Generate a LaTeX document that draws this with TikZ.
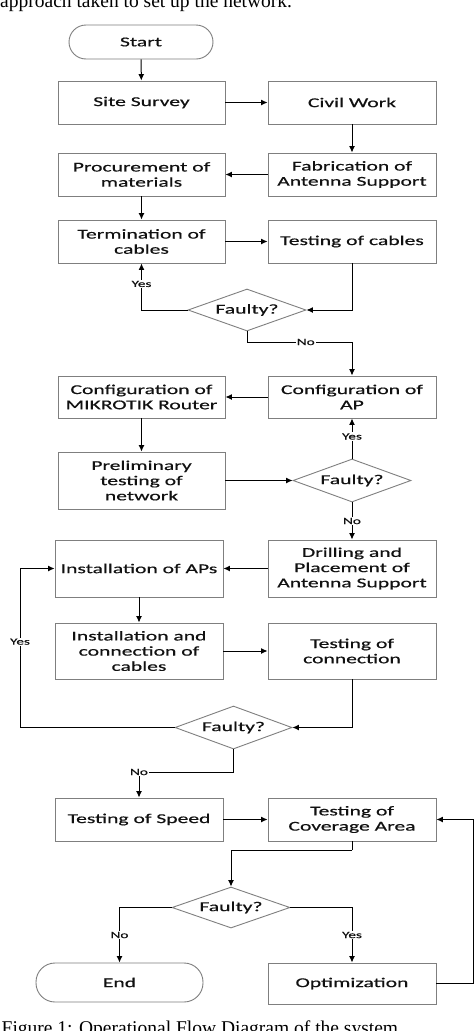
\documentclass[tikz,border=0pt]{standalone}
\usepackage{fontspec}
\setmainfont{Liberation Serif}
\newfontfamily\bxfont[FakeStretch=1.6,FakeBold=0.5]{Carlito}
\usetikzlibrary{arrows.meta,shapes.geometric}
\definecolor{boxline}{HTML}{7F7F7F}
\definecolor{txt}{HTML}{111111}
\tikzset{
  stepbox/.style={draw=boxline, line width=0.9pt, fill=white, inner sep=0pt,
    minimum width=168pt, minimum height=43pt, align=center, text=txt,
    font=\bxfont\fontsize{13.5}{15.2}\selectfont},
  termbox/.style={stepbox, rounded corners=17pt},
  decbox/.style={draw=boxline, line width=0.9pt, fill=white, diamond, aspect=2.8,
    inner sep=0pt, minimum width=118pt, minimum height=42pt, text=txt,
    font=\bxfont\fontsize{13.5}{15.2}\selectfont},
  arr/.style={draw=black, line width=1pt, -{Latex[length=6.5pt,width=6pt]}},
  ln/.style={draw=black, line width=1pt},
  lab/.style={fill=white, inner sep=1pt, text=txt,
    font=\bxfont\fontsize{9.5}{10}\selectfont},
  captxt/.style={inner sep=0pt, anchor=base west, font=\fontsize{19.5}{22}\selectfont}
}
\begin{document}
\begin{tikzpicture}[x=1pt,y=-1pt]
\useasboundingbox (0,0) rectangle (474,1031);
\fill[white] (0,0) rectangle (474,1031);
\begin{scope}
\clip (0,0) rectangle (474,1031);
\node[captxt] (captop) at (0,7.3) {approach taken to set up the network.};
\node[captxt] (capbot) at (1.5,1034.5) {Figure 1: Operational Flow Diagram of the system};
\end{scope}

% nodes
\node[termbox, minimum width=144pt, minimum height=34pt] (start) at (141,42) {Start};
\node[stepbox, minimum width=167pt] (site) at (141.5,102.5) {Site Survey};
\node[stepbox] (civil) at (352,102.5) {Civil Work};
\node[stepbox, minimum width=167pt] (proc) at (141.5,174.5) {Procurement of\\materials};
\node[stepbox] (fab) at (352,174.5) {Fabrication of\\Antenna Support};
\node[stepbox, minimum width=167pt] (term) at (141.5,241.5) {Termination of\\cables};
\node[stepbox] (tcab) at (352,241.5) {Testing of cables};
\node[decbox] (f1) at (247,310) {Faulty?};
\node[stepbox, minimum width=167pt, minimum height=42pt] (mikro) at (141.5,397) {Configuration of\\MIKROTIK Router};
\node[stepbox, minimum height=42pt] (confap) at (352,397) {Configuration of\\AP};
\node[stepbox, minimum width=167pt, minimum height=57pt] (prelim) at (141.5,480.5) {Preliminary\\testing of\\network};
\node[decbox, minimum height=43pt] (f2) at (352,480.5) {Faulty?};
\node[stepbox, minimum height=57pt] (drill) at (352,568.5) {Drilling and\\Placement of\\Antenna Support};
\node[stepbox, minimum height=57pt] (instap) at (139,568.5) {Installation of APs};
\node[stepbox, minimum height=56pt] (instc) at (139,651) {Installation and\\connection of\\cables};
\node[stepbox, minimum height=56pt] (tconn) at (352,651) {Testing of\\connection};
\node[decbox, minimum width=117pt, minimum height=43pt] (f3) at (233.5,727.5) {Faulty?};
\node[stepbox] (speed) at (139,819.5) {Testing of Speed};
\node[stepbox] (cover) at (352,819.5) {Testing of\\Coverage Area};
\node[decbox, minimum height=41pt] (f4) at (231,907.5) {Faulty?};
\node[termbox, minimum width=167pt, minimum height=39pt, rounded corners=19pt] (end) at (119.5,982.5) {End};
\node[stepbox, minimum height=41pt] (opt) at (352,983.5) {Optimization};

% bend points
\coordinate (n1) at (247,342);
\coordinate (y3) at (20,727.5);
\coordinate (n3) at (233.5,772);
\coordinate (c4) at (352,850);
\coordinate (o4) at (473,983.5);

% connectors
\draw[arr] (start) -- (site);
\draw[arr] (site) -- (civil);
\draw[arr] (civil) -- (fab);
\draw[arr] (fab) -- (proc);
\draw[arr] (proc) -- (term);
\draw[arr] (term) -- (tcab);
\draw[arr] (tcab.south) |- (f1.east);
\draw[arr] (f1.west) -| node[lab, pos=0.78] (yes1) {Yes} (term.south);
\draw[ln] (f1.south) -- (n1);
\draw[arr] (n1) -| node[lab, pos=0.28] (no1) {No} (confap.north);
\draw[arr] (confap) -- (mikro);
\draw[arr] (mikro) -- (prelim);
\draw[arr] (prelim.east) -- (f2.west);
\draw[arr] (f2.north) -- node[lab, pos=0.55] (yes2) {Yes} (confap.south);
\draw[arr] (f2.south) -- node[lab, pos=0.5] (no2) {No} (drill.north);
\draw[arr] (drill) -- (instap);
\draw[arr] (instap) -- (instc);
\draw[arr] (instc) -- (tconn);
\draw[arr] (tconn.south) |- (f3.east);
\draw[ln] (f3.west) -- (y3);
\draw[arr] (y3) |- node[lab, pos=0.27] (yes3) {Yes} (instap.west);
\draw[ln] (f3.south) -- (n3);
\draw[arr] (n3) -| node[lab, pos=0.5] (no3) {No} (speed.north);
\draw[arr] (speed) -- (cover);
\draw[ln] (cover.south) -- (c4);
\draw[arr] (c4) -| (f4.north);
\draw[arr] (f4.west) -| node[lab, pos=0.75] (no4) {No} (end.north);
\draw[arr] (f4.east) -| node[lab, pos=0.75] (yes4) {Yes} (opt.north);
\draw[ln] (opt.east) -- (o4);
\draw[arr] (o4) |- (cover.east);
\end{tikzpicture}
\end{document}
